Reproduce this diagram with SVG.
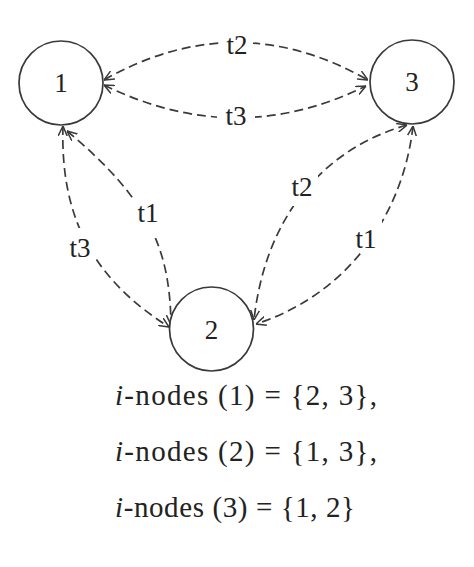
<svg xmlns="http://www.w3.org/2000/svg" width="474" height="567" viewBox="0 0 474 567">
<defs>
<style>
.node circle{fill:#fff;stroke:#3a3a3a;stroke-width:1.7}
.node text{font-family:"Liberation Serif",serif;font-size:27px;fill:#222;text-anchor:middle;dominant-baseline:central}
.lbl text{font-family:"Liberation Serif",serif;font-size:27px;fill:#222;text-anchor:middle;dominant-baseline:central}
.edge{fill:none;stroke:#3a3a3a;stroke-width:1.7;stroke-dasharray:9 5;marker-start:url(#ah);marker-end:url(#ah)}
.gap{fill:#fff}
.eq{font-family:"Liberation Serif",serif;font-size:29px;fill:#222}
</style>
<marker id="ah" viewBox="0 0 10 10" refX="10" refY="5" markerWidth="10" markerHeight="10" markerUnits="userSpaceOnUse" orient="auto-start-reverse">
<path d="M0,0.5 L10,5 L0,9.5" fill="none" stroke="#3a3a3a" stroke-width="1.5"/>
</marker>
</defs>
<rect width="474" height="567" fill="#fff"/>
<g id="connectors">
<path class="edge" d="M104,80 Q236,5 368,80"/>
<path class="edge" d="M104,85 Q236,150 366,86"/>
<path class="edge" d="M63,126 C60,220 95,280 169,327"/>
<path class="edge" d="M67,131 C150,200 170,250 171,325"/>
<path class="edge" d="M407,125 C320,150 265,220 254,320"/>
<path class="edge" d="M413,126 C405,200 360,290 256,324"/>
</g>
<g class="lbl">
<rect class="gap" x="222" y="32" width="31" height="26"/><text x="237" y="45">t2</text>
<rect class="gap" x="217" y="104" width="38" height="26"/><text x="236" y="116">t3</text>
<rect class="gap" x="64" y="228" width="32" height="42"/><text x="80" y="248">t3</text>
<rect class="gap" x="134" y="196" width="30" height="42"/><text x="148" y="213">t1</text>
<rect class="gap" x="286" y="173" width="32" height="33"/><text x="302" y="187">t2</text>
<rect class="gap" x="350" y="216" width="32" height="34"/><text x="366" y="239">t1</text>
</g>
<g id="node1" class="node"><circle cx="61" cy="83" r="42"/><text x="61" y="83">1</text></g>
<g id="node3" class="node"><circle cx="412" cy="82" r="42"/><text x="412" y="82">3</text></g>
<g id="node2" class="node"><circle cx="211.5" cy="329" r="42"/><text x="211.5" y="330">2</text></g>
<g id="equations">
<text class="eq" x="115" y="405" textLength="262" lengthAdjust="spacing"><tspan font-style="italic">i</tspan>-nodes (1) = {2, 3},</text>
<text class="eq" x="115" y="461" textLength="262" lengthAdjust="spacing"><tspan font-style="italic">i</tspan>-nodes (2) = {1, 3},</text>
<text class="eq" x="115" y="517" textLength="240" lengthAdjust="spacing"><tspan font-style="italic">i</tspan>-nodes (3) = {1, 2}</text>
</g>
</svg>
